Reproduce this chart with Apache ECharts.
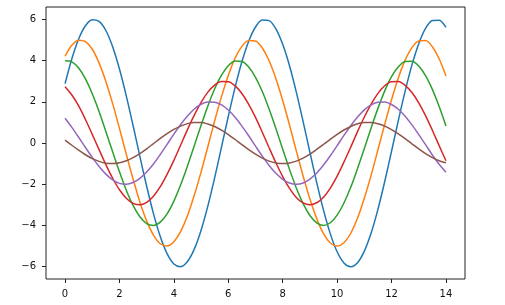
<!DOCTYPE html>
<html>
<head>
<meta charset="utf-8">
<script src="https://cdn.jsdelivr.net/npm/echarts@6/dist/echarts.min.js"></script>
<style>html,body{margin:0;padding:0;background:#fff;}#c{width:505px;height:305px;}</style>
</head>
<body>
<div id="c"></div>
<script>
const xs = [0,0.25,0.5,0.75,1,1.25,1.5,1.75,2,2.25,2.5,2.75,3,3.25,3.5,3.75,4,4.25,4.5,4.75,5,5.25,5.5,5.75,6,6.25,6.5,6.75,7,7.25,7.5,7.75,8,8.25,8.5,8.75,9,9.25,9.5,9.75,10,10.25,10.5,10.75,11,11.25,11.5,11.75,12,12.25,12.5,12.75,13,13.25,13.5,13.75,14];
const blue = [2.88,4.09,5.05,5.69,5.98,5.90,5.46,4.67,3.59,2.29,0.85,-0.65,-2.10,-3.43,-4.54,-5.37,-5.87,-6.00,-5.75,-5.15,-4.23,-3.05,-1.68,-0.20,1.29,2.70,3.94,4.94,5.63,5.97,5.94,5.54,4.79,3.75,2.47,1.04,-0.45,-1.92,-3.26,-4.41,-5.28,-5.82,-6.00,-5.81,-5.25,-4.37,-3.22,-1.87,-0.40,1.10,2.52,3.79,4.82,5.56,5.94,5.96,5.61];
const orange = [4.21,4.74,4.99,4.92,4.55,3.89,2.99,1.91,0.71,-0.54,-1.75,-2.86,-3.78,-4.47,-4.89,-5.00,-4.79,-4.29,-3.53,-2.54,-1.40,-0.17,1.08,2.25,3.28,4.12,4.69,4.97,4.95,4.61,3.99,3.12,2.06,0.87,-0.38,-1.60,-2.72,-3.67,-4.40,-4.85,-5.00,-4.84,-4.38,-3.64,-2.68,-1.56,-0.33,0.91,2.10,3.16,4.02,4.63,4.95,4.97,4.67,4.09,3.25];
const green = [3.99,3.94,3.64,3.11,2.39,1.53,0.56,-0.43,-1.40,-2.29,-3.03,-3.58,-3.91,-4.00,-3.84,-3.44,-2.82,-2.03,-1.12,-0.13,0.86,1.80,2.63,3.29,3.75,3.98,3.96,3.69,3.19,2.50,1.65,0.70,-0.30,-1.28,-2.18,-2.94,-3.52,-3.88,-4.00,-3.87,-3.50,-2.91,-2.15,-1.24,-0.27,0.73,1.68,2.53,3.22,3.70,3.96,3.97,3.74,3.27,2.60,1.77,0.83];
const red = [2.73,2.33,1.80,1.14,0.42,-0.32,-1.05,-1.71,-2.27,-2.68,-2.93,-3.00,-2.88,-2.58,-2.12,-1.52,-0.84,-0.10,0.65,1.35,1.97,2.47,2.81,2.98,2.97,2.77,2.40,1.87,1.24,0.52,-0.23,-0.96,-1.63,-2.20,-2.64,-2.91,-3.00,-2.90,-2.63,-2.19,-1.61,-0.93,-0.20,0.55,1.26,1.89,2.41,2.78,2.97,2.98,2.80,2.45,1.95,1.33,0.62,-0.13,-0.86];
const purple = [1.20,0.76,0.28,-0.22,-0.70,-1.14,-1.51,-1.79,-1.96,-2.00,-1.92,-1.72,-1.41,-1.02,-0.56,-0.07,0.43,0.90,1.31,1.65,1.88,1.99,1.98,1.85,1.60,1.25,0.82,0.35,-0.15,-0.64,-1.09,-1.47,-1.76,-1.94,-2.00,-1.94,-1.75,-1.46,-1.07,-0.62,-0.13,0.37,0.84,1.26,1.61,1.85,1.98,1.99,1.87,1.64,1.30,0.88,0.41,-0.08,-0.58,-1.03,-1.42];
const brown = [0.14,-0.11,-0.35,-0.57,-0.76,-0.89,-0.98,-1.00,-0.96,-0.86,-0.71,-0.51,-0.28,-0.03,0.22,0.45,0.66,0.82,0.94,0.99,0.99,0.92,0.80,0.62,0.41,0.17,-0.08,-0.32,-0.54,-0.73,-0.88,-0.97,-1.00,-0.97,-0.88,-0.73,-0.54,-0.31,-0.07,0.18,0.42,0.63,0.80,0.93,0.99,0.99,0.93,0.82,0.65,0.44,0.21,-0.04,-0.29,-0.52,-0.71,-0.86,-0.96];
const xTicks = [0,2,4,6,8,10,12,14];
const yTicks = [-6,-4,-2,0,2,4,6];

const seriesList = [
  {name:'s1', data: blue, color:'#1f77b4'},
  {name:'s2', data: orange, color:'#ff7f0e'},
  {name:'s3', data: green, color:'#2ca02c'},
  {name:'s4', data: red, color:'#d62728'},
  {name:'s5', data: purple, color:'#9467bd'},
  {name:'s6', data: brown, color:'#8c564b'}
];
const fmt = v => String(v).replace('-', '\u2212');
const chart = echarts.init(document.getElementById('c'), null, {renderer:'canvas'});
chart.setOption({
  animation:false,
  backgroundColor:'#fff',
  grid:{left:46, right:40, top:7, bottom:26, show:true, borderColor:'#222', borderWidth:1, backgroundColor:'transparent'},
  xAxis:{type:'value', min:-0.7, max:14.7,
    axisLine:{show:false, onZero:false}, splitLine:{show:false},
    axisTick:{show:true, inside:false, customValues:xTicks, length:4, lineStyle:{color:'#222', width:1}},
    axisLabel:{customValues:xTicks, formatter:fmt, color:'#111', fontFamily:'DejaVu Sans', fontSize:10, margin:10}},
  yAxis:{type:'value', min:-6.6, max:6.6,
    axisLine:{show:false, onZero:false}, splitLine:{show:false},
    axisTick:{show:true, inside:false, customValues:yTicks, length:4, lineStyle:{color:'#222', width:1}},
    axisLabel:{customValues:yTicks, formatter:fmt, color:'#111', fontFamily:'DejaVu Sans', fontSize:10, margin:10}},
  series: seriesList.map(s => ({
    type:'line', name:s.name, smooth:0.3, showSymbol:false, symbol:'none',
    lineStyle:{color:s.color, width:1.5}, itemStyle:{color:s.color},
    data: xs.map((x,i)=>[x, s.data[i]])
  }))
});
</script>
</body>
</html>
